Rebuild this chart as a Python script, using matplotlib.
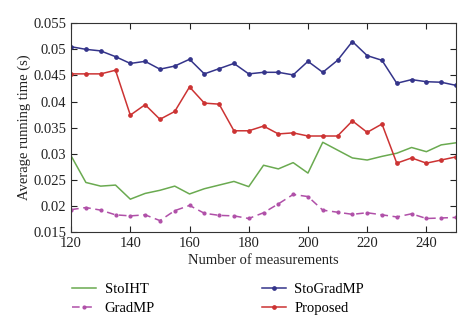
import matplotlib
matplotlib.use("Agg")
import matplotlib.pyplot as plt
import numpy as np

plt.rcParams['font.family'] = ['Liberation Serif', 'DejaVu Serif']
plt.rcParams['mathtext.fontset'] = 'stix'

measurements = list(range(120, 251, 5))

stoiht = [0.0296, 0.0245, 0.0238, 0.0240, 0.0213, 0.0224, 0.0230, 0.0238, 0.0223,
          0.0233, 0.0240, 0.0247, 0.0237, 0.0278, 0.0271, 0.0283, 0.0263, 0.0322,
          0.0307, 0.0292, 0.0288, 0.0295, 0.0301, 0.0312, 0.0304, 0.0317, 0.0321]

gradmp = [0.0193, 0.0197, 0.0192, 0.0183, 0.0181, 0.0183, 0.0172, 0.0191, 0.0201,
          0.0186, 0.0182, 0.0181, 0.0176, 0.0187, 0.0204, 0.0222, 0.0218, 0.0192,
          0.0188, 0.0184, 0.0187, 0.0183, 0.0179, 0.0185, 0.0176, 0.0177, 0.0178]

stogradmp = [0.0505, 0.0500, 0.0497, 0.0486, 0.0473, 0.0477, 0.0462, 0.0468, 0.0481,
             0.0453, 0.0463, 0.0473, 0.0453, 0.0456, 0.0456, 0.0451, 0.0477, 0.0456,
             0.0479, 0.0515, 0.0488, 0.0479, 0.0435, 0.0442, 0.0438, 0.0437, 0.0431]

proposed = [0.0453, 0.0453, 0.0453, 0.0460, 0.0374, 0.0394, 0.0366, 0.0381, 0.0428,
            0.0397, 0.0395, 0.0344, 0.0344, 0.0353, 0.0338, 0.0340, 0.0334, 0.0334,
            0.0334, 0.0363, 0.0341, 0.0357, 0.0282, 0.0292, 0.0282, 0.0288, 0.0294]

x_ticks = [120, 140, 160, 180, 200, 220, 240]
y_ticks = [0.015, 0.02, 0.025, 0.03, 0.035, 0.04, 0.045, 0.05, 0.055]
y_tick_labels = ['0.015', '0.02', '0.025', '0.03', '0.035', '0.04', '0.045', '0.05', '0.055']

fig = plt.figure(figsize=(4.74, 3.32), dpi=100)
ax = fig.add_axes([0.150, 0.301, 0.812, 0.629])

ax.plot(measurements, stoiht, color='#6aaa50', lw=1.1, label='StoIHT')
ax.plot(measurements, gradmp, color='#b050a8', lw=1.1, ls=(0, (5, 3)),
        marker='o', ms=2.0, label='GradMP')
ax.plot(measurements, stogradmp, color='#34348a', lw=1.1, marker='o', ms=2.4,
        label='StoGradMP')
ax.plot(measurements, proposed, color='#cc3333', lw=1.1, marker='o', ms=2.4,
        label='Proposed')

ax.set_xlim(120, 250)
ax.set_ylim(0.015, 0.055)
ax.set_xticks(x_ticks)
ax.set_yticks(y_ticks)
ax.set_yticklabels(y_tick_labels)
ax.tick_params(direction='in', top=True, right=True, length=4, width=0.8,
               labelsize=10.5, colors='#222222')
for s in ax.spines.values():
    s.set_linewidth(0.8)
    s.set_color('#333333')

ax.set_xlabel('Number of measurements', fontsize=10.5, labelpad=3, color='#222222')
ax.set_ylabel('Average running time (s)', fontsize=10.5, labelpad=1.5, color='#222222')

fig.legend(loc='upper left', bbox_to_anchor=(0.152, 0.147), ncol=2, frameon=False,
           fontsize=10.5, numpoints=1, handlelength=1.65, handletextpad=0.6,
           columnspacing=7.3, labelspacing=0.4, borderaxespad=0, borderpad=0)

fig.savefig('out.png', dpi=100)
